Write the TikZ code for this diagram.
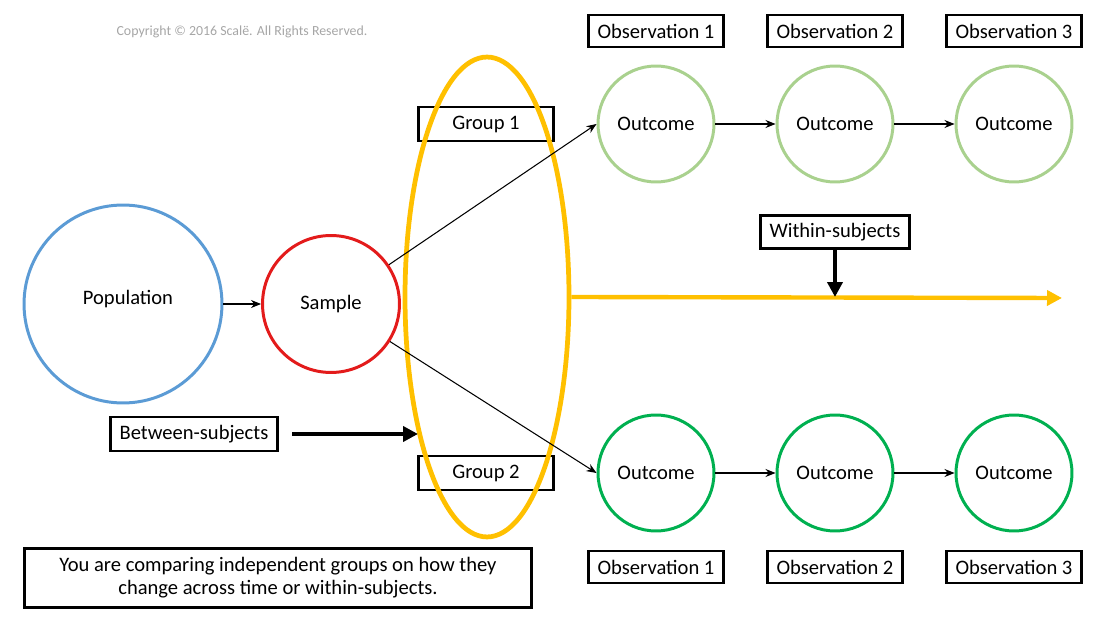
\documentclass[tikz,border=0pt]{standalone}
\usepackage{fontspec}
\setmainfont{Carlito}
\usetikzlibrary{arrows.meta,shapes.geometric}

\definecolor{popblue}{HTML}{5B9BD5}
\definecolor{samplered}{HTML}{E31B1B}
\definecolor{ovalgold}{HTML}{FFC000}
\definecolor{lightgreen}{HTML}{A9D18E}
\definecolor{darkgreen}{HTML}{00B050}

\begin{document}
\begin{tikzpicture}[x=0.02cm,y=-0.02cm]
\tikzset{
  circ/.style={circle,draw,line width=1.7pt,inner sep=1pt,font=\fontsize{11.7}{13}\selectfont},
  labelbox/.style={rectangle,draw,line width=1.7pt,inner sep=2pt,font=\fontsize{11.7}{13}\selectfont},
  thin arrow/.style={-{Stealth[length=2mm,width=1.6mm]},line width=0.6pt},
  thick arrow/.style={-{Triangle[length=3mm,width=3mm]},line width=2.4pt}
}
\useasboundingbox (0,0) rectangle (1100,618);

\node[text=black!35,font=\fontsize{7.9}{9}\selectfont] (n_copy) at (242,32) {Copyright © 2016 Scalë. All Rights Reserved.};

% left part
\node[circ,draw=popblue,minimum size=3.96cm] (n_pop) at (123,304) {};
\node[font=\fontsize{11.7}{13}\selectfont] (n_poptext) at (128,299) {Population};
\node[circ,draw=samplered,minimum size=2.74cm] (n_sample) at (331,304) {Sample};

% groups
\node[labelbox,minimum width=2.7cm,minimum height=0.68cm] (n_g1) at (486,124) {Group 1};
\node[labelbox,minimum width=2.7cm,minimum height=0.68cm] (n_g2) at (486,473) {Group 2};
\node[ellipse,draw=ovalgold,line width=2.7pt,minimum width=3.28cm,minimum height=9.6cm] (n_oval) at (487,297) {};

% outcomes
\foreach \i/\x in {1/656,2/835,3/1014}{
  \node[circ,draw=lightgreen,minimum size=2.32cm] (n_top\i) at (\x,124) {Outcome};
  \node[circ,draw=darkgreen,minimum size=2.32cm] (n_bot\i) at (\x,473) {Outcome};
  \node[labelbox,minimum width=2.7cm,minimum height=0.64cm] (n_otop\i) at (\x,31) {Observation \i};
  \node[labelbox,minimum width=2.7cm,minimum height=0.64cm] (n_obot\i) at (\x,567) {Observation \i};
}

\node[labelbox,minimum width=3cm,minimum height=0.66cm] (n_within) at (835,232) {Within-subjects};
\node[labelbox,minimum width=3.36cm,minimum height=0.68cm] (n_between) at (194,434) {Between-subjects};
\node[labelbox,minimum width=10.16cm,minimum height=1.18cm,align=center,inner sep=3pt] (n_note) at (278,578)
  {You are comparing independent groups on how they\\change across time or within-subjects.};

\coordinate (c_end) at (1062,298);
\coordinate (c_hit) at (835,297);
\coordinate (c_bstart) at (292,434);
\coordinate (c_bend) at (418,434);

% connectors
\draw[thin arrow] (n_pop) -- (n_sample);
\draw[thin arrow] (n_sample) -- (n_top1.west);
\draw[thin arrow] (n_sample) -- (n_bot1.west);
\draw[thin arrow] (n_top1) -- (n_top2);
\draw[thin arrow] (n_top2) -- (n_top3);
\draw[thin arrow] (n_bot1) -- (n_bot2);
\draw[thin arrow] (n_bot2) -- (n_bot3);
\draw[-{Triangle[length=3mm,width=3mm]},draw=ovalgold,fill=ovalgold,line width=2.5pt] (n_oval.east) -- (c_end);
\draw[thick arrow] (n_within) -- (c_hit);
\draw[thick arrow] (c_bstart) -- (c_bend);
\end{tikzpicture}
\end{document}
